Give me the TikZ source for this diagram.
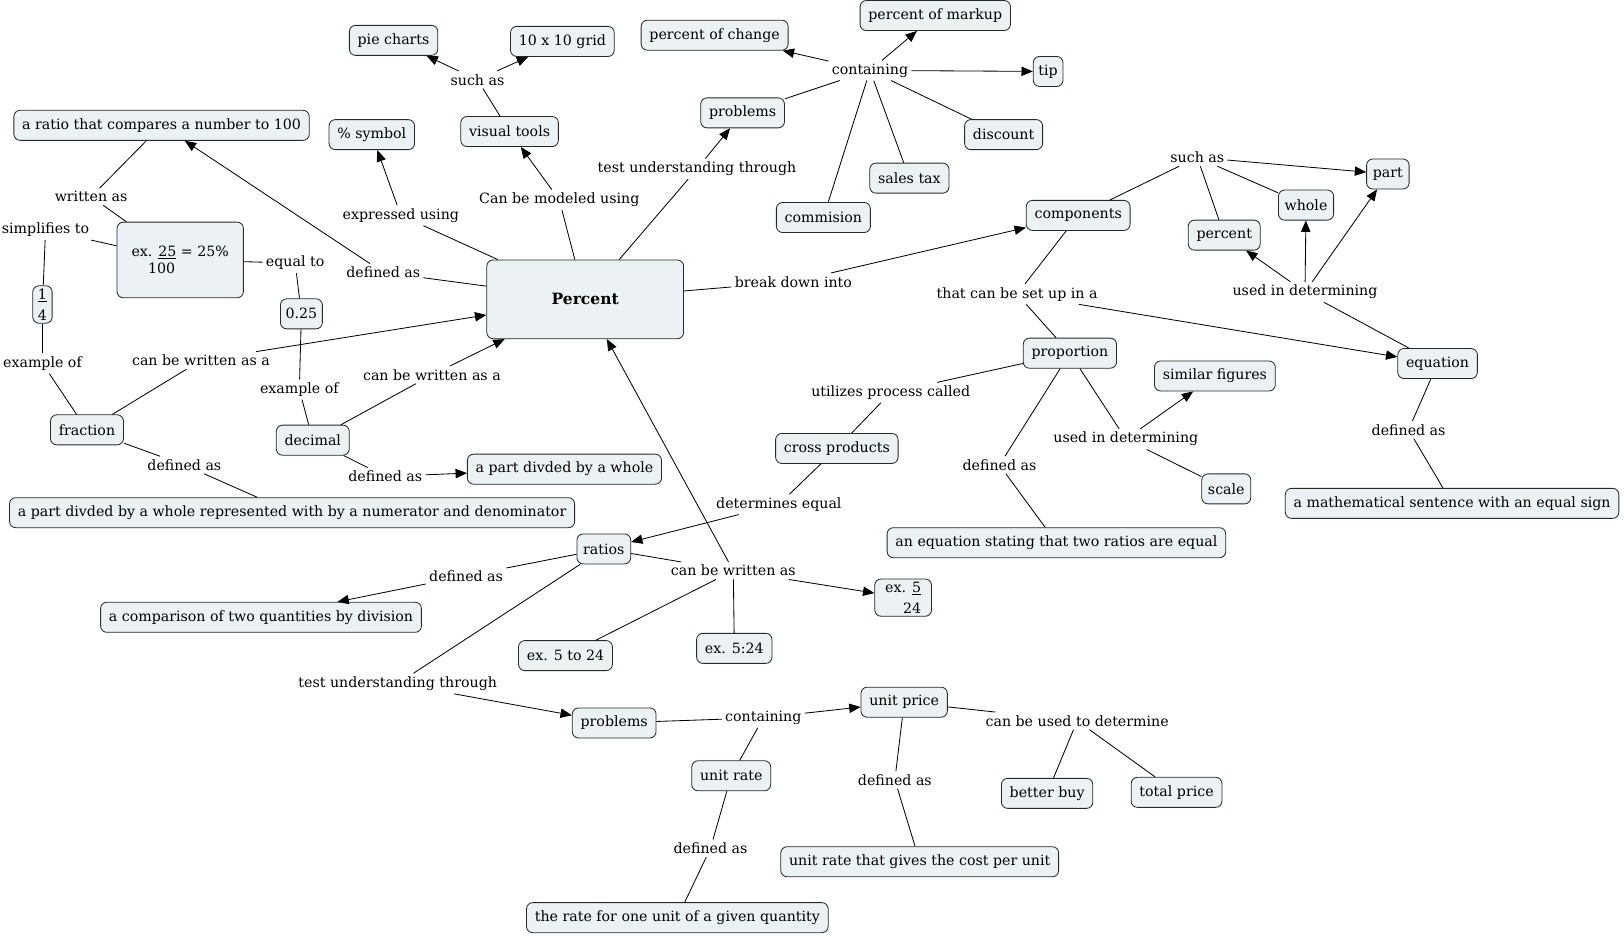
\documentclass[tikz,border=0pt]{standalone}
\usepackage{fontspec}
\setmainfont{DejaVu Serif}
\usepackage{tikz}
\usetikzlibrary{arrows.meta}
\definecolor{conceptfill}{RGB}{236, 242, 244}
\definecolor{conceptedge}{RGB}{40, 40, 40}
\newcommand{\mapfont}{\fontsize{13.7}{16}\selectfont}

\begin{document}
\begin{tikzpicture}[
    x=1pt, y=-1pt,
    concept/.style={rectangle, rounded corners=6pt, draw=conceptedge, fill=conceptfill, line width=0.8pt, inner xsep=8pt, inner ysep=3pt, minimum height=29pt, font=\mapfont},
    link/.style={inner sep=3pt, font=\mapfont},
    conn/.style={line width=0.8pt},
    arrow/.style={line width=0.8pt, -{Triangle[length=11pt, width=9pt]}}
]
    \useasboundingbox (0,0) rectangle (1568,904);

    % Centre: Percent
    \node[concept, minimum width=190pt, minimum height=76pt, font=\fontsize{15}{18}\selectfont\bfseries] (percent) at (565, 289) {Percent};

    % Top left: definition and examples
    \node[concept] (ratiodef) at (156, 121) {a ratio that compares a number to 100};
    \node[concept, minimum width=122pt, minimum height=73pt, align=left] (exbox) at (174, 251) {ex. \underline{25} = 25\%\\\hspace{16pt}100};
    \node[concept, inner xsep=5pt, align=center, font=\fontsize{13.7}{20}\selectfont] (quarter) at (41, 294) {\underline{1}\\4};
    \node[concept, inner xsep=5pt] (dec25) at (291, 303) {0.25};
    \node[concept] (symbol) at (359, 130) {\% symbol};
    \node[concept] (fraction) at (84, 415) {fraction};
    \node[concept] (decimal) at (302, 425) {decimal};
    \node[concept] (decdef) at (545, 453) {a part divded by a whole};
    \node[concept] (fracdef) at (282, 495) {a part divded by a whole represented with by a numerator and denominator};

    % Top: models and problems
    \node[concept] (piecharts) at (380, 39) {pie charts};
    \node[concept] (grid) at (543, 40) {10 x 10 grid};
    \node[concept] (visual) at (492, 127) {visual tools};
    \node[concept] (probtop) at (717, 109) {problems};
    \node[concept] (pctchange) at (690, 34) {percent of change};
    \node[concept] (markup) at (903, 15) {percent of markup};
    \node[concept, inner xsep=5pt] (tip) at (1012, 69) {tip};
    \node[concept] (discount) at (969, 130) {discount};
    \node[concept] (salestax) at (878, 172) {sales tax};
    \node[concept] (commision) at (795, 210) {commision};

    % Right: components and proportion
    \node[concept] (components) at (1041, 208) {components};
    \node[concept, inner xsep=6pt] (part) at (1340, 168) {part};
    \node[concept, inner xsep=6pt] (whole) at (1261, 198) {whole};
    \node[concept] (pctpart) at (1182, 227) {percent};
    \node[concept] (proportion) at (1033, 341) {proportion};
    \node[concept] (equation) at (1388, 351) {equation};
    \node[concept] (similar) at (1173, 363) {similar figures};
    \node[concept, inner xsep=6pt] (scale) at (1184, 472) {scale};
    \node[concept] (mathsent) at (1402, 486) {a mathematical sentence with an equal sign};
    \node[concept] (eqstate) at (1020, 524) {an equation stating that two ratios are equal};
    \node[concept] (cross) at (808, 433) {cross products};

    % Bottom: ratios
    \node[concept, inner xsep=6pt] (ratios) at (583, 530) {ratios};
    \node[concept, inner xsep=10pt, align=right, font=\fontsize{13.7}{20}\selectfont] (exfrac) at (872, 577) {ex. \underline{5}\\24};
    \node[concept] (compare) at (252, 596) {a comparison of two quantities by division};
    \node[concept] (exto) at (546, 633) {ex. 5 to 24};
    \node[concept] (excolon) at (709, 626) {ex. 5:24};
    \node[concept] (probbot) at (593, 698) {problems};
    \node[concept] (unitprice) at (873, 678) {unit price};
    \node[concept] (unitrate) at (706, 749) {unit rate};
    \node[concept] (betterbuy) at (1011, 766) {better buy};
    \node[concept] (totalprice) at (1136, 765) {total price};
    \node[concept] (pricedef) at (888, 832) {unit rate that gives the cost per unit};
    \node[concept] (ratedef) at (654, 886) {the rate for one unit of a given quantity};

    % Linking phrases
    \node[link] (lsuchas) at (461, 77) {such as};
    \node[link] (lcontain) at (840, 68) {containing};
    \node[link] (lwritten) at (88, 190) {written as};
    \node[link] (lsimpl) at (44, 222) {simplifies to};
    \node[link] (lequal) at (285, 254) {equal to};
    \node[link] (lexpr) at (387, 208) {expressed using};
    \node[link] (lmodel) at (540, 193) {Can be modeled using};
    \node[link] (ltest) at (673, 163) {test understanding through};
    \node[link] (ldefpct) at (370, 263) {defined as};
    \node[link] (lexfrac) at (41, 351) {example of};
    \node[link] (lwritefrac) at (194, 348) {can be written as a};
    \node[link] (lexdec) at (289, 376) {example of};
    \node[link] (lwritedec) at (417, 362) {can be written as a};
    \node[link] (ldeffrac) at (178, 449) {defined as};
    \node[link] (ldefdec) at (372, 460) {defined as};
    \node[link] (lbreak) at (766, 272) {break down into};
    \node[link] (lsuchcomp) at (1156, 152) {such as};
    \node[link] (lusedeq) at (1260, 282) {used in determining};
    \node[link] (lsetup) at (982, 284) {that can be set up in a};
    \node[link] (lutil) at (860, 379) {utilizes process called};
    \node[link] (lusedprop) at (1087, 424) {used in determining};
    \node[link] (ldefprop) at (965, 449) {defined as};
    \node[link] (ldefeq) at (1360, 415) {defined as};
    \node[link] (ldeterm) at (752, 487) {determines equal};
    \node[link] (lwriteratio) at (708, 551) {can be written as};
    \node[link] (ldefratio) at (450, 556) {defined as};
    \node[link] (ltestratio) at (384, 660) {test understanding through};
    \node[link] (lcontainbot) at (737, 693) {containing};
    \node[link] (ldefprice) at (864, 753) {defined as};
    \node[link] (lusedprice) at (1040, 696) {can be used to determine};
    \node[link] (ldefrate) at (686, 819) {defined as};

    % Connectors around Percent
    \draw[conn] (percent) -- (lexpr);
    \draw[arrow] (lexpr) -- (symbol);
    \draw[conn] (percent) -- (lmodel);
    \draw[arrow] (lmodel) -- (visual);
    \draw[conn] (percent) -- (ltest);
    \draw[arrow] (ltest) -- (probtop);
    \draw[conn] (percent) -- (ldefpct);
    \draw[arrow] (ldefpct) -- (ratiodef);
    \draw[conn] (percent) -- (lbreak);
    \draw[arrow] (lbreak) -- (components);

    % Visual tools and problems
    \draw[conn] (visual) -- (lsuchas);
    \draw[arrow] (lsuchas) -- (piecharts);
    \draw[arrow] (lsuchas) -- (grid);
    \draw[conn] (probtop) -- (lcontain);
    \draw[arrow] (lcontain) -- (pctchange);
    \draw[arrow] (lcontain) -- (markup);
    \draw[arrow] (lcontain) -- (tip);
    \draw[conn] (lcontain) -- (discount);
    \draw[conn] (lcontain) -- (salestax);
    \draw[conn] (lcontain) -- (commision);

    % Fractions and decimals
    \draw[conn] (ratiodef) -- (lwritten);
    \draw[conn] (lwritten) -- (exbox);
    \draw[conn] (exbox) -- (lsimpl);
    \draw[conn] (lsimpl) -- (quarter);
    \draw[conn] (exbox) -- (lequal);
    \draw[conn] (lequal) -- (dec25);
    \draw[conn] (quarter) -- (lexfrac);
    \draw[conn] (lexfrac) -- (fraction);
    \draw[conn] (dec25) -- (lexdec);
    \draw[conn] (lexdec) -- (decimal);
    \draw[conn] (fraction) -- (lwritefrac);
    \draw[arrow] (lwritefrac) -- (percent);
    \draw[conn] (decimal) -- (lwritedec);
    \draw[arrow] (lwritedec) -- (percent);
    \draw[conn] (fraction) -- (ldeffrac);
    \draw[conn] (ldeffrac) -- (fracdef);
    \draw[conn] (decimal) -- (ldefdec);
    \draw[arrow] (ldefdec) -- (decdef);

    % Components, proportion, equation
    \draw[conn] (components) -- (lsuchcomp);
    \draw[arrow] (lsuchcomp) -- (part);
    \draw[conn] (lsuchcomp) -- (whole);
    \draw[conn] (lsuchcomp) -- (pctpart);
    \draw[conn] (equation) -- (lusedeq);
    \draw[arrow] (lusedeq) -- (pctpart);
    \draw[arrow] (lusedeq) -- (whole);
    \draw[arrow] (lusedeq) -- (part);
    \draw[conn] (components) -- (lsetup);
    \draw[conn] (lsetup) -- (proportion);
    \draw[arrow] (lsetup) -- (equation);
    \draw[conn] (proportion) -- (lutil);
    \draw[conn] (lutil) -- (cross);
    \draw[conn] (proportion) -- (lusedprop);
    \draw[arrow] (lusedprop) -- (similar);
    \draw[conn] (lusedprop) -- (scale);
    \draw[conn] (proportion) -- (ldefprop);
    \draw[conn] (ldefprop) -- (eqstate);
    \draw[conn] (equation) -- (ldefeq);
    \draw[conn] (ldefeq) -- (mathsent);

    % Ratios
    \draw[conn] (cross) -- (ldeterm);
    \draw[arrow] (ldeterm) -- (ratios);
    \draw[conn] (ratios) -- (lwriteratio);
    \draw[arrow] (lwriteratio) -- (exfrac);
    \draw[conn] (lwriteratio) -- (exto);
    \draw[conn] (lwriteratio) -- (excolon);
    \draw[arrow] (lwriteratio) -- (percent);
    \draw[conn] (ratios) -- (ldefratio);
    \draw[arrow] (ldefratio) -- (compare);
    \draw[conn] (ratios) -- (ltestratio);
    \draw[arrow] (ltestratio) -- (probbot);

    % Unit price and unit rate
    \draw[conn] (probbot) -- (lcontainbot);
    \draw[arrow] (lcontainbot) -- (unitprice);
    \draw[conn] (lcontainbot) -- (unitrate);
    \draw[conn] (unitprice) -- (ldefprice);
    \draw[conn] (ldefprice) -- (pricedef);
    \draw[conn] (unitprice) -- (lusedprice);
    \draw[conn] (lusedprice) -- (betterbuy);
    \draw[conn] (lusedprice) -- (totalprice);
    \draw[conn] (unitrate) -- (ldefrate);
    \draw[conn] (ldefrate) -- (ratedef);
\end{tikzpicture}
\end{document}
